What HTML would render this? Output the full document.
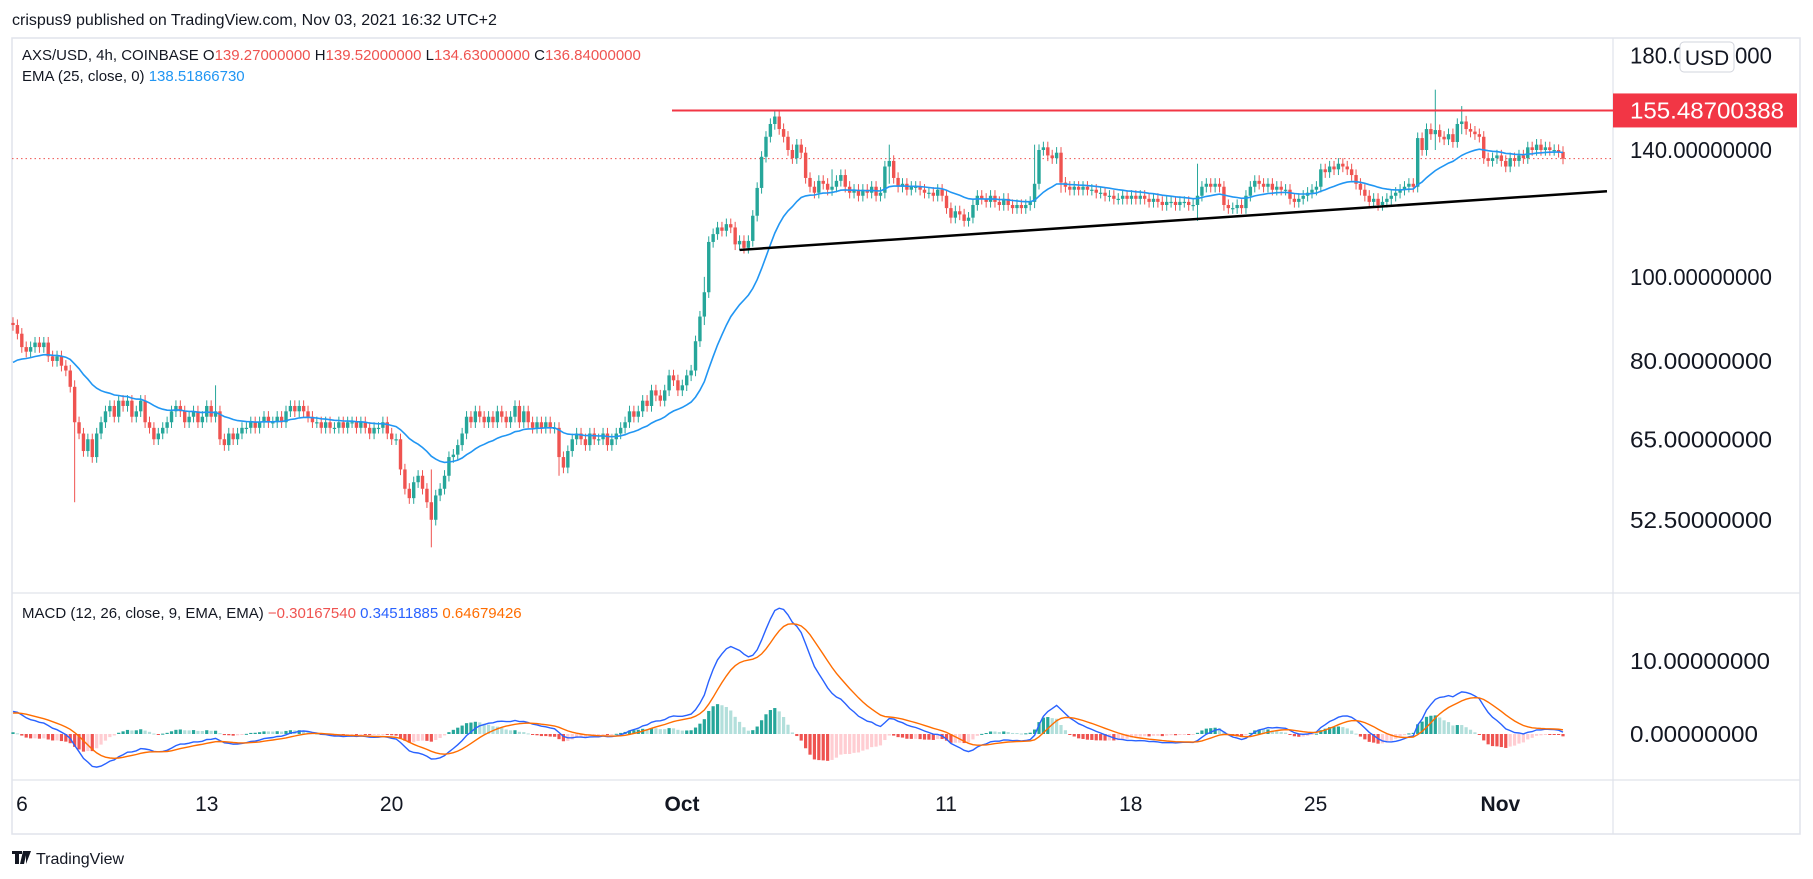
<!DOCTYPE html>
<html><head><meta charset="utf-8"><style>
html,body{margin:0;padding:0;background:#fff;}
svg{display:block;font-family:"Liberation Sans",sans-serif;}
</style></head><body>
<svg id="chart" width="1813" height="879" viewBox="0 0 1813 879" xmlns="http://www.w3.org/2000/svg">
<text x="12" y="25" font-size="16" fill="#131722">crispus9 published on TradingView.com, Nov 03, 2021 16:32 UTC+2</text>
<rect x="12" y="38" width="1788" height="796" fill="#fff" stroke="#e0e3eb" stroke-width="1.5"/>
<line x1="1613" y1="38" x2="1613" y2="834" stroke="#e0e3eb" stroke-width="1.2"/>
<line x1="12" y1="593" x2="1800" y2="593" stroke="#e0e3eb" stroke-width="1.2"/>
<line x1="12" y1="780" x2="1800" y2="780" stroke="#e0e3eb" stroke-width="1.2"/>
<g id="main"></g>
<g id="macd"></g>
<g id="axes"></g>
<g font-size="15">
<text x="22" y="60" fill="#131722">AXS/USD, 4h, COINBASE <tspan fill="#131722">O</tspan><tspan fill="#ef5350">139.27000000</tspan> <tspan fill="#131722"> H</tspan><tspan fill="#ef5350">139.52000000</tspan> <tspan fill="#131722"> L</tspan><tspan fill="#ef5350">134.63000000</tspan> <tspan fill="#131722"> C</tspan><tspan fill="#ef5350">136.84000000</tspan></text>
<text x="22" y="81" fill="#131722">EMA (25, close, 0) <tspan fill="#2196f3"> 138.51866730</tspan></text>
<text x="22" y="618" fill="#131722">MACD (12, 26, close, 9, EMA, EMA) <tspan fill="#ef5350"> −0.30167540</tspan><tspan fill="#2962ff">  0.34511885</tspan><tspan fill="#ff6d00">  0.64679426</tspan></text>
</g>
<g>
<path d="M12 851h10v3h-3v10h-4v-10h-3z M23 851h4l-3 13h-4z M26 851h5l-5 13z" fill="#131722"/>
<text x="36" y="864" font-size="16" fill="#131722">TradingView</text>
</g>
</svg>
<script>
const closes=[88,86,83,82,83,84,83,84,81,80,81,79,78,74.7,68,66,63,65,62,66,68,70,71,69,72,71,72,69,70,72,68,67,65,66,67,68,70,71,70,68,69,70,68,69,71,69,70,65,64,66,65,66,67,67,68,67,68,69,68,68,69,68,70,71,70,71,70,69,68,68,67,68,67,67,68,67,68,68,67,68,67,66,67,67,68,66,65,65,60,57,55.6,58,59,57,55,52.5,56,57,59,62,62.4,64,66,69,68,70,69,68,69,68,70,69,68,69,71,68,70,68,67,68,67,68,67,67,62,60.3,63,65,66,65,64,66,65,65,66,64,65,66,67,68,70,69,70,72,71,74,73,72,74,77,76,74,75,77,78,84.3,90,96,109.7,112,114,113,115,114,109,110,108,110,117.6,126.6,137.5,145,150,153,148,145,140,137,142,139,130,127,125,129,128,126,127,129,131,127,125,126,124,126,125,127,124,125,134,136,130,127,128,126,127,127,126,125,125,124,126,124,120,117,119,118,116,117,121,124,123,122,124,122,121,123,121,120,121,120,121,122,128,140,141,138,137,139,128.4,127,126,127,126,127,126,126,125,125,124,124,123,123,124,123,124,123,124,123,122,123,122,121,122,122,121,122,122,121,121,124,127,128,127,128,127,121,120,120,121,120,124,127,129,128,127,128,126,127,126,126,123,122,123,124,125,126,127,133,132,134,133,135,134,133,131,128,126,124,122,123,121,122,123,124,125,126,127,128,127,144.5,140,148,146,147.6,145,144,146,143,150,151,148,147,146,145,137,136,137,138,136,134,137,136,138,137,141,140,142,140,141,140,140,139.3,136.84];
const spikeIdx=[14,46,95,124,157,173,186,199,232,238,269,323,329];
const spikeHigh=[76,75,60,68,100,155.5,133,142,142,136,135,164.3,157.3];
const spikeLow=[55,68,48.8,59,88,148,124,128,120,125,116,140,146];
const priceTicks=[180,140,100,80,65,52.5];
const macdTicks=[10,0];
const timeLabels=['6','13','20','Oct','11','18','25','Nov'];
const timeDays=[0,7,14,25,35,42,49,56];
const resistance=155.48700388;
const trendStart=[165,107.4];const trendEnd=[352,125.5];
const emaSeed=79, e12Seed=84, e26Seed=81, sigSeed=2.8;

const NS='http://www.w3.org/2000/svg';
const n=closes.length;
const X0=13,X1=1563;
const xi=i=>X0+i*(X1-X0)/(n-1);
const py=p=>150+Math.log(140/p)*377;
const my=v=>734-v*7.3;
const dx=d=>22+d*26.4;
function mk(tag,attrs,parent){const e=document.createElementNS(NS,tag);for(const k in attrs)e.setAttribute(k,attrs[k]);parent.appendChild(e);return e;}
const main=document.getElementById('main'),macd=document.getElementById('macd'),axes=document.getElementById('axes');

let cl=mk('line',{x1:12,x2:1613,y1:py(closes[n-1]),y2:py(closes[n-1]),stroke:'#ef5350','stroke-width':1,'stroke-dasharray':'1.5 3'},main);



for(let i=0;i<n;i++){
  const c=closes[i],o=i?closes[i-1]:88.5;
  let h=Math.max(o,c)*1.015,l=Math.min(o,c)*0.985;
  const k=spikeIdx.indexOf(i);
  if(k>=0){h=Math.max(h,spikeHigh[k]);l=Math.min(l,spikeLow[k]);}
  const col=c>=o?'#26a69a':'#ef5350';
  const g=mk('g',{},main);
  
  
  const x=xi(i);
  mk('line',{x1:x,x2:x,y1:py(h),y2:py(l),stroke:col,'stroke-width':1},g);
  const y1=py(Math.max(o,c)),y2=py(Math.min(o,c));
  mk('rect',{x:x-1.7,y:y1,width:3.4,height:Math.max(1.2,y2-y1),fill:col},g);
}
let ema=emaSeed,pts=[];const a=2/26;
for(let i=0;i<n;i++){ema=ema+(closes[i]-ema)*a;pts.push(xi(i).toFixed(1)+','+py(ema).toFixed(1));}
let el=mk('polyline',{points:pts.join(' '),fill:'none',stroke:'#2196f3','stroke-width':1.6},main);



let rl=mk('line',{x1:672,x2:1613,y1:py(resistance),y2:py(resistance),stroke:'#f23645','stroke-width':2},main);


let tl=mk('line',{x1:xi(trendStart[0]),y1:py(trendStart[1]),x2:1607,y2:py(trendEnd[1]),stroke:'#000','stroke-width':2.5},main);



let e12=e12Seed,e26=e26Seed,sig=sigSeed,mp=[],sp=[],prevH=null;
for(let i=0;i<n;i++){
  e12+= (closes[i]-e12)*2/13; e26+=(closes[i]-e26)*2/27;
  const m=e12-e26; sig+=(m-sig)*0.2; const hv=m-sig;
  mp.push(xi(i).toFixed(1)+','+my(m).toFixed(1)); sp.push(xi(i).toFixed(1)+','+my(sig).toFixed(1));
  let col;
  if(hv>=0) col=(prevH===null||hv>=prevH)?'#26a69a':'#b2dfdb'; else col=(prevH===null||hv<=prevH)?'#ef5350':'#ffcdd2';
  prevH=hv;
  const y0=my(0),yv=my(hv);
  const b=mk('rect',{x:xi(i)-1.6,y:Math.min(y0,yv),width:3.2,height:Math.max(1,Math.abs(yv-y0)),fill:col},macd);
  
  
}
let ml=mk('polyline',{points:mp.join(' '),fill:'none',stroke:'#2962ff','stroke-width':1.4},macd);


let sl=mk('polyline',{points:sp.join(' '),fill:'none',stroke:'#ff6d00','stroke-width':1.4},macd);



priceTicks.forEach(p=>{
  const t=mk('text',{x:1630,y:py(p)+8,'font-size':23,fill:'#131722',textLength:142,lengthAdjust:'spacingAndGlyphs'},axes);
  t.textContent=p.toFixed(8);
  
  
});
macdTicks.forEach(v=>{
  const t=mk('text',{x:1630,y:my(v)+8,'font-size':23,fill:'#131722',textLength:v>=10?140:128,lengthAdjust:'spacingAndGlyphs'},axes);
  t.textContent=v.toFixed(8);
  
  
});
const ub=mk('rect',{x:1680,y:42,width:54,height:30,rx:4,fill:'#fff',stroke:'#d1d4dc'},axes);


const ut=mk('text',{x:1707,y:65,'font-size':21,'text-anchor':'middle',fill:'#131722'},axes);
ut.textContent='USD';


const ry=py(resistance);
const rb=mk('rect',{x:1613,y:ry-17,width:184,height:34,fill:'#f23645'},axes);


const rt=mk('text',{x:1630,y:ry+8,'font-size':23,fill:'#fff',textLength:154,lengthAdjust:'spacingAndGlyphs'},axes);
rt.textContent=resistance.toFixed(8);


timeLabels.forEach((s,k)=>{
  const t=mk('text',{x:dx(timeDays[k]),y:811,'font-size':21,'text-anchor':'middle',fill:'#131722','font-weight':(s==='Oct'||s==='Nov')?'bold':'normal'},axes);
  t.textContent=s;
  
  
});
</script>
</body></html>
